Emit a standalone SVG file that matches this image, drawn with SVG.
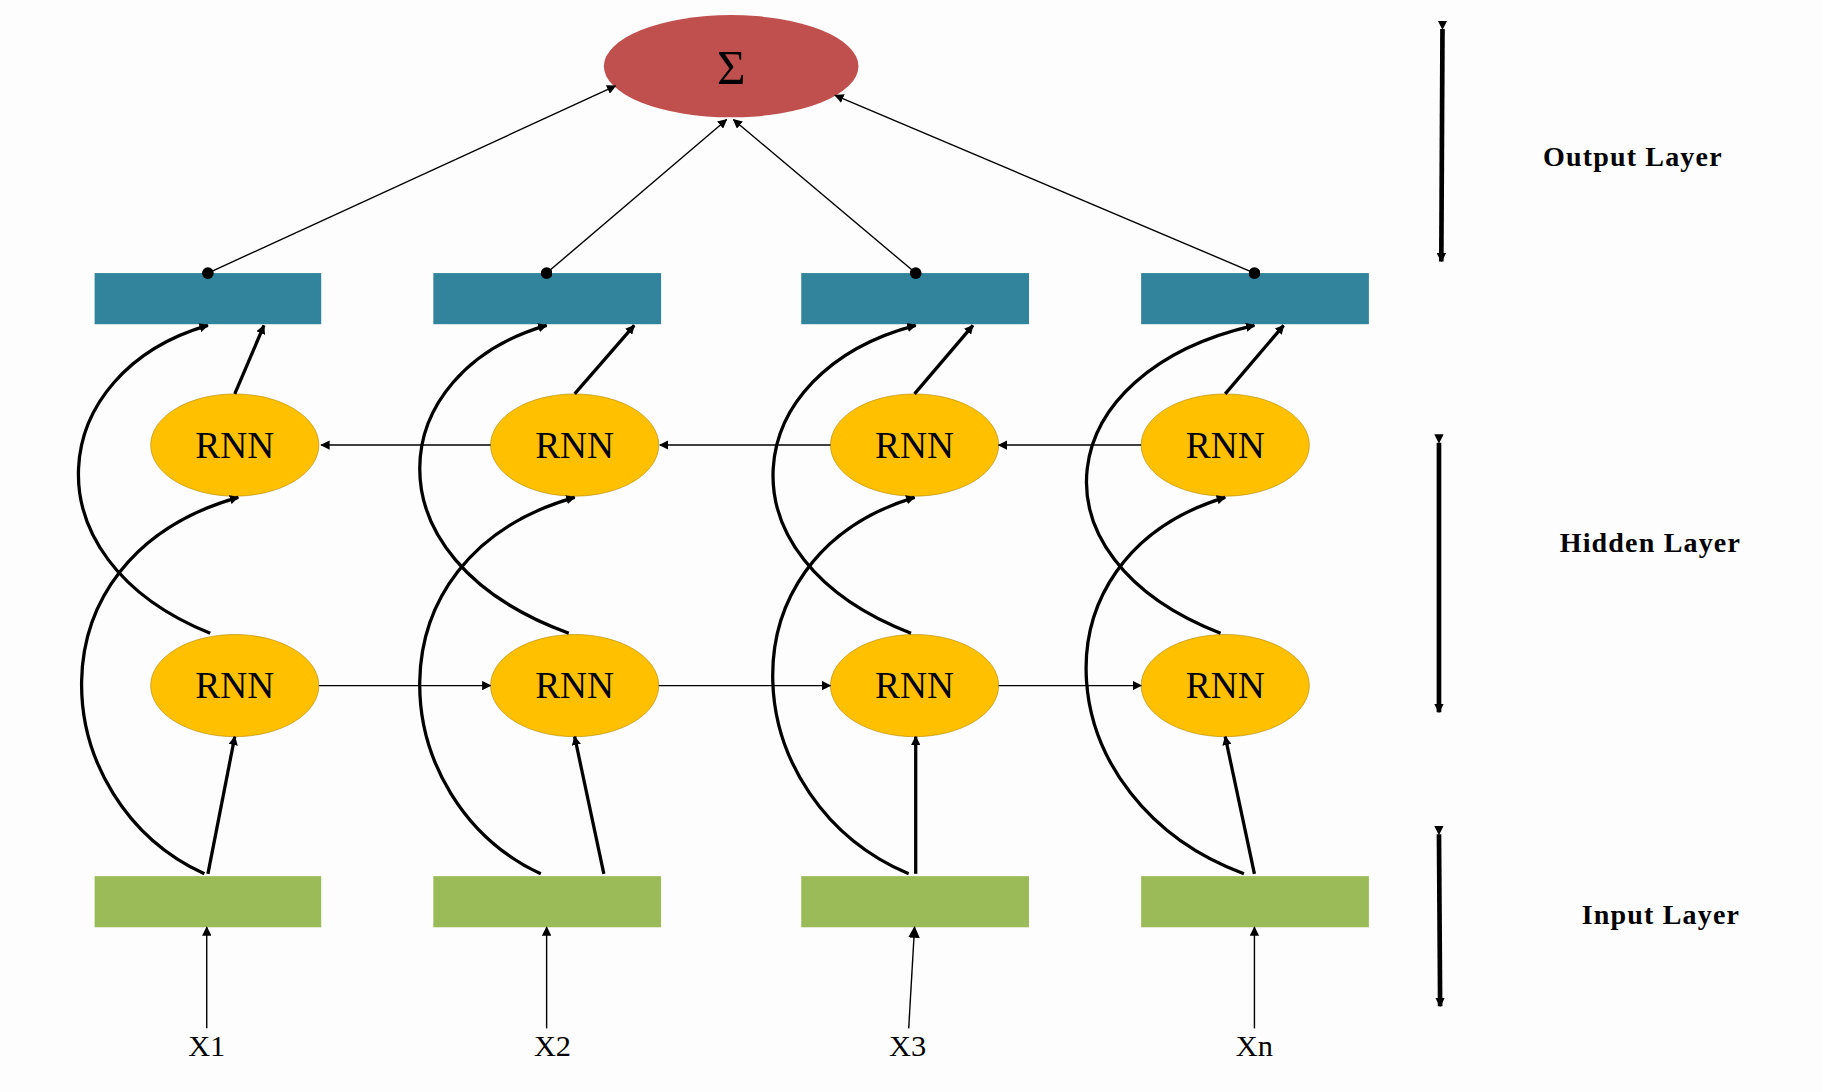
<svg xmlns="http://www.w3.org/2000/svg" width="1822" height="1092" viewBox="0 0 1822 1092">
<style>
.rnn{fill:#FFC000;stroke:#B08400;stroke-width:0.5}
.teal{fill:#31849B}
.green{fill:#9BBB59}
.t{font-family:"Liberation Serif",serif;text-anchor:middle;fill:#000}
.lbl{font-family:"Liberation Serif",serif;font-weight:bold;font-size:24px;text-anchor:middle;letter-spacing:1px}
.thin{stroke:#000;stroke-width:1.2;fill:none}
.thick{stroke:#000;stroke-width:2.8;fill:none}
.bar{stroke:#000;stroke-width:4;fill:none}
</style>
<defs>
<marker id="a" viewBox="0 0 10 10" refX="9" refY="5" markerWidth="8" markerHeight="8" markerUnits="userSpaceOnUse" orient="auto"><path d="M0,0L10,5L0,10z"/></marker>
<marker id="ab" viewBox="0 0 10 10" refX="9" refY="5" markerWidth="10" markerHeight="10" markerUnits="userSpaceOnUse" orient="auto"><path d="M0,0L10,5L0,10z"/></marker>
<marker id="d" viewBox="0 0 10 10" refX="5" refY="5" markerWidth="10" markerHeight="10" markerUnits="userSpaceOnUse"><circle cx="5" cy="5" r="5"/></marker>
</defs>
<rect width="1822" height="1092" fill="#fdfdfd"/>
<g transform="scale(1.168,1.162)">
<g id="sum"><ellipse cx="626" cy="57" rx="109" ry="44" fill="#C0504D"/><text class="t" x="626" y="72" font-size="42">Σ</text></g>
<g id="h1"><rect class="teal" x="81" y="235" width="194" height="44"/></g>
<g id="h2"><rect class="teal" x="371" y="235" width="195" height="44"/></g>
<g id="h3"><rect class="teal" x="686" y="235" width="195" height="44"/></g>
<g id="h4"><rect class="teal" x="977" y="235" width="195" height="44"/></g>
<g id="in1"><rect class="green" x="81" y="754" width="194" height="44"/></g>
<g id="in2"><rect class="green" x="371" y="754" width="195" height="44"/></g>
<g id="in3"><rect class="green" x="686" y="754" width="195" height="44"/></g>
<g id="in4"><rect class="green" x="977" y="754" width="195" height="44"/></g>
<g id="rt1"><ellipse class="rnn" cx="201" cy="383" rx="72" ry="44"/><text class="t" x="201" y="394" font-size="32">RNN</text></g>
<g id="rt2"><ellipse class="rnn" cx="492" cy="383" rx="72" ry="44"/><text class="t" x="492" y="394" font-size="32">RNN</text></g>
<g id="rt3"><ellipse class="rnn" cx="783" cy="383" rx="72" ry="44"/><text class="t" x="783" y="394" font-size="32">RNN</text></g>
<g id="rt4"><ellipse class="rnn" cx="1049" cy="383" rx="72" ry="44"/><text class="t" x="1049" y="394" font-size="32">RNN</text></g>
<g id="rb1"><ellipse class="rnn" cx="201" cy="590" rx="72" ry="44"/><text class="t" x="201" y="601" font-size="32">RNN</text></g>
<g id="rb2"><ellipse class="rnn" cx="492" cy="590" rx="72" ry="44"/><text class="t" x="492" y="601" font-size="32">RNN</text></g>
<g id="rb3"><ellipse class="rnn" cx="783" cy="590" rx="72" ry="44"/><text class="t" x="783" y="601" font-size="32">RNN</text></g>
<g id="rb4"><ellipse class="rnn" cx="1049" cy="590" rx="72" ry="44"/><text class="t" x="1049" y="601" font-size="32">RNN</text></g>
<g id="x1"><text class="t" x="177" y="909" font-size="26">X1</text></g>
<g id="x2"><text class="t" x="473" y="909" font-size="26">X2</text></g>
<g id="x3"><text class="t" x="777" y="909" font-size="26">X3</text></g>
<g id="xn"><text class="t" x="1074" y="909" font-size="26">Xn</text></g>
<g id="labels">
<text class="lbl" x="1398" y="143">Output Layer</text>
<text class="lbl" x="1413" y="475">Hidden Layer</text>
<text class="lbl" x="1422" y="795">Input Layer</text>
</g>
<g id="connectors">
<path class="thin" marker-start="url(#d)" marker-end="url(#a)" d="M178,235L527,74"/>
<path class="thin" marker-start="url(#d)" marker-end="url(#a)" d="M468,235L622,103"/>
<path class="thin" marker-start="url(#d)" marker-end="url(#a)" d="M784,235L628,103"/>
<path class="thin" marker-start="url(#d)" marker-end="url(#a)" d="M1074,235L715,82"/>
<path class="thin" marker-end="url(#a)" d="M177,885L177,798"/>
<path class="thin" marker-end="url(#a)" d="M468,885L468,798"/>
<path class="thin" marker-end="url(#ab)" d="M778,885L783,798"/>
<path class="thin" marker-end="url(#a)" d="M1074,885L1074,798"/>
<path class="thick" marker-end="url(#a)" d="M178,752L201,634"/>
<path class="thick" marker-end="url(#a)" d="M517,752L492,634"/>
<path class="thick" marker-end="url(#a)" d="M784,752L784,634"/>
<path class="thick" marker-end="url(#a)" d="M1074,752L1049,634"/>
<path class="thick" marker-end="url(#a)" d="M201,339L226,280"/>
<path class="thick" marker-end="url(#a)" d="M492,339L543,280"/>
<path class="thick" marker-end="url(#a)" d="M783,339L833,280"/>
<path class="thick" marker-end="url(#a)" d="M1049,339L1099,280"/>
<path class="thick" marker-end="url(#a)" d="M175,752C40,690 20,480 204,428"/>
<path class="thick" marker-end="url(#a)" d="M180,545C20,480 40,320 178,280"/>
<path class="thick" marker-end="url(#a)" d="M463,752C330,690 310,480 492,428"/>
<path class="thick" marker-end="url(#a)" d="M487,545C310,480 330,320 468,280"/>
<path class="thick" marker-end="url(#a)" d="M778,752C632,690 612,480 783,428"/>
<path class="thick" marker-end="url(#a)" d="M780,545C612,480 632,320 784,280"/>
<path class="thick" marker-end="url(#a)" d="M1065,752C898,690 878,480 1049,428"/>
<path class="thick" marker-end="url(#a)" d="M1045,545C878,480 898,320 1074,280"/>
<path class="thin" marker-end="url(#a)" d="M420,383L275,383"/>
<path class="thin" marker-end="url(#a)" d="M711,383L565,383"/>
<path class="thin" marker-end="url(#a)" d="M977,383L855,383"/>
<path class="thin" marker-end="url(#a)" d="M273,590L420,590"/>
<path class="thin" marker-end="url(#a)" d="M564,590L711,590"/>
<path class="thin" marker-end="url(#a)" d="M855,590L977,590"/>
<path class="bar" marker-start="url(#a)" marker-end="url(#a)" d="M1235,25L1234,225"/>
<path class="bar" marker-start="url(#a)" marker-end="url(#a)" d="M1232,381L1232,613"/>
<path class="bar" marker-start="url(#a)" marker-end="url(#a)" d="M1232,718L1233,866"/>
</g>
</g>
</svg>
